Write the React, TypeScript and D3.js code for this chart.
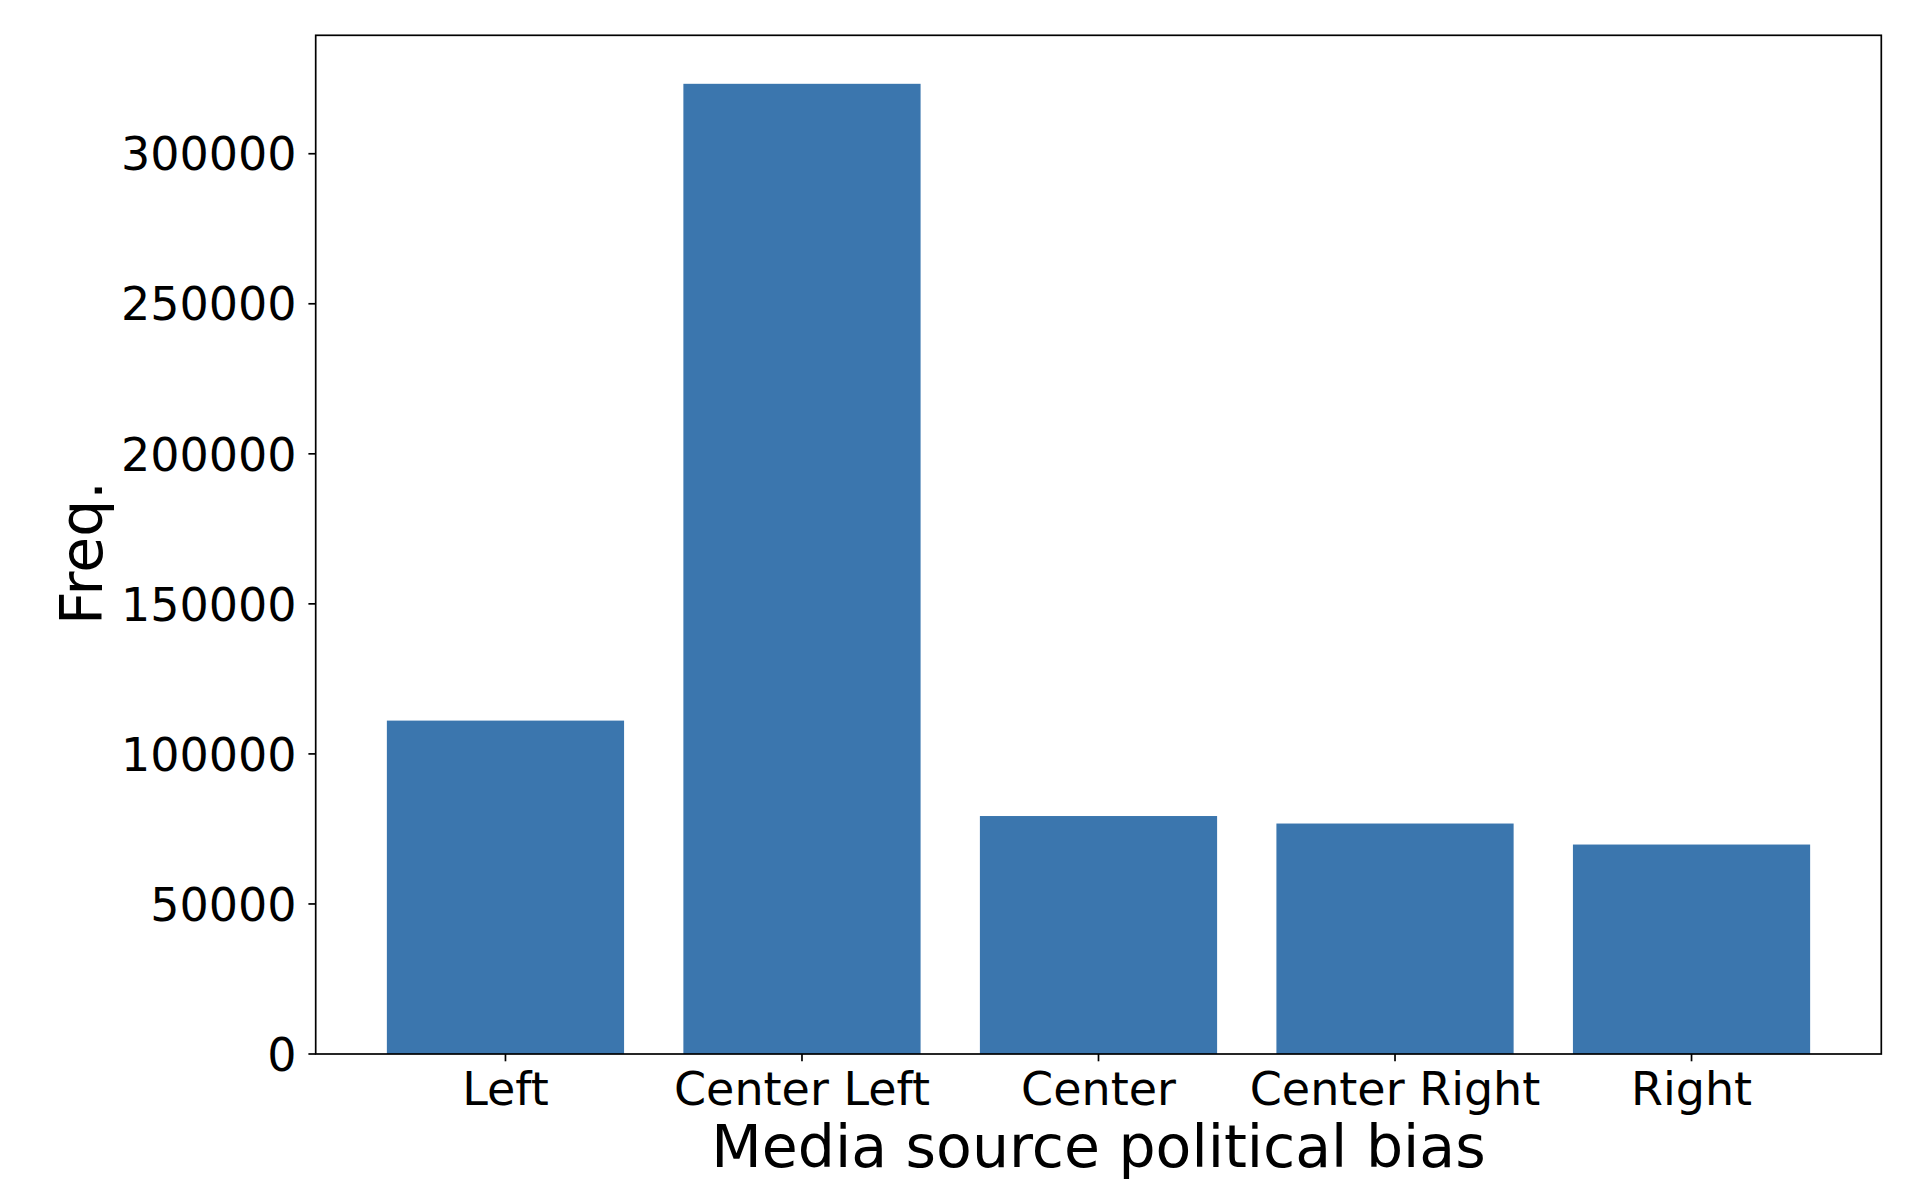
import React from "react";
import * as d3 from "d3";

const categories = ["Left", "Center Left", "Center", "Center Right", "Right"];
const freqValues = [111100, 323300, 79300, 76800, 69800];
const yTicks = [0, 50000, 100000, 150000, 200000, 250000, 300000];
const xLabel = "Media source political bias";
const yLabel = "Freq.";

const W = 1920;
const H = 1196;
const M = { left: 315.7, right: 1881.3, top: 35.3, bottom: 1054 };
const BAR = "#3b76ae";
const FONT = "'DejaVu Sans', sans-serif";

export default function App() {
  const x = d3
    .scaleBand<string>()
    .domain(categories)
    .range([M.left, M.right])
    .paddingInner(0.2)
    .paddingOuter(0.24);
  const yMax = (d3.max(freqValues) as number) * 1.05;
  const y = d3.scaleLinear().domain([0, yMax]).range([M.bottom, M.top]);

  return (
    <svg
      width={W}
      height={H}
      style={{ position: "absolute", left: 0, top: 0, background: "#fff" }}
      fontFamily={FONT}
    >
      <rect x={0} y={0} width={W} height={H} fill="#fff" />
      {categories.map((c, i) => (
        <rect
          key={c}
          x={x(c)}
          y={y(freqValues[i])}
          width={x.bandwidth()}
          height={y(0) - y(freqValues[i])}
          fill={BAR}
        />
      ))}
      <rect
        x={M.left}
        y={M.top}
        width={M.right - M.left}
        height={M.bottom - M.top}
        fill="none"
        stroke="#000"
        strokeWidth={1.7}
      />
      {yTicks.map((t) => (
        <g key={t}>
          <line
            x1={M.left - 7.3}
            x2={M.left}
            y1={y(t)}
            y2={y(t)}
            stroke="#000"
            strokeWidth={1.7}
          />
          <text
            x={296.5}
            y={y(t) + 16.7}
            textAnchor="end"
            fontSize={46}
            fill="#000"
          >
            {String(t)}
          </text>
        </g>
      ))}
      {categories.map((c) => {
        const cx = (x(c) as number) + x.bandwidth() / 2;
        return (
          <g key={c}>
            <line
              x1={cx}
              x2={cx}
              y1={M.bottom}
              y2={M.bottom + 7.3}
              stroke="#000"
              strokeWidth={1.7}
            />
            <text x={cx} y={1105} textAnchor="middle" fontSize={46} fill="#000">
              {c}
            </text>
          </g>
        );
      })}
      <text
        x={(M.left + M.right) / 2}
        y={1167}
        textAnchor="middle"
        fontSize={58.5}
        fill="#000"
      >
        {xLabel}
      </text>
      <text
        transform={`translate(101.7, 553) rotate(-90)`}
        textAnchor="middle"
        fontSize={58.5}
        fill="#000"
      >
        {yLabel}
      </text>
    </svg>
  );
}
